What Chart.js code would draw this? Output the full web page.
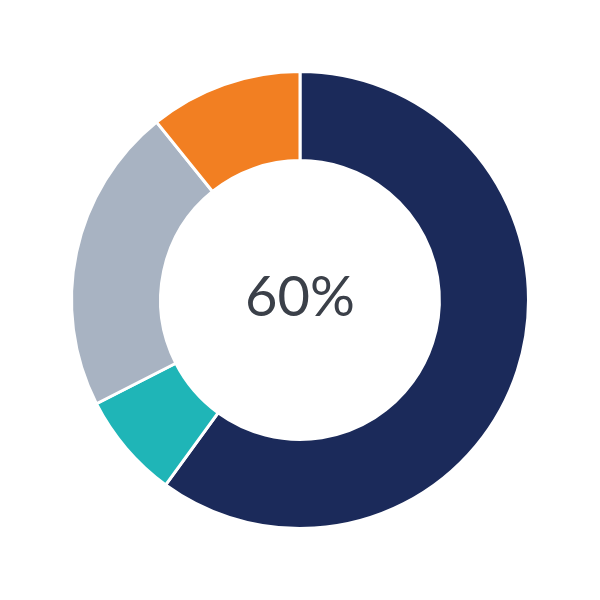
<!DOCTYPE html>
<html>
<head>
<meta charset="utf-8">
<script src="https://cdn.jsdelivr.net/npm/chart.js@4"></script>
<style>
html,body{margin:0;padding:0;background:#fff;}
#wrap{width:600px;height:600px;}
</style>
</head>
<body>
<div id="wrap"><canvas id="c" width="600" height="600"></canvas></div>
<script>
const labels = ['Navy', 'Teal', 'Gray', 'Orange'];
const values = [60, 7.5, 21.7, 10.8];
const colors = ['#1b2a5a', '#1fb5b7', '#a8b3c2', '#f27f22'];
const centerText = '60%';

const centerPlugin = {
  id: 'centerText',
  afterDraw(chart) {
    const meta = chart.getDatasetMeta(0);
    const arc = meta.data[0];
    const ctx = chart.ctx;
    ctx.save();
    ctx.font = '400 56px Lato';
    ctx.fillStyle = '#3b4049';
    ctx.textAlign = 'center';
    ctx.textBaseline = 'middle';
    ctx.fillText(centerText, arc.x, arc.y - 2);
    ctx.restore();
  }
};

new Chart(document.getElementById('c'), {
  type: 'doughnut',
  data: {
    labels: labels,
    datasets: [{
      data: values,
      backgroundColor: colors,
      borderColor: '#ffffff',
      borderWidth: 3,
      hoverOffset: 0
    }]
  },
  options: {
    responsive: false,
    animation: false,
    cutout: '61%',
    layout: { padding: 70 },
    plugins: {
      legend: { display: false },
      tooltip: { enabled: false }
    }
  },
  plugins: [centerPlugin]
});
</script>
</body>
</html>
